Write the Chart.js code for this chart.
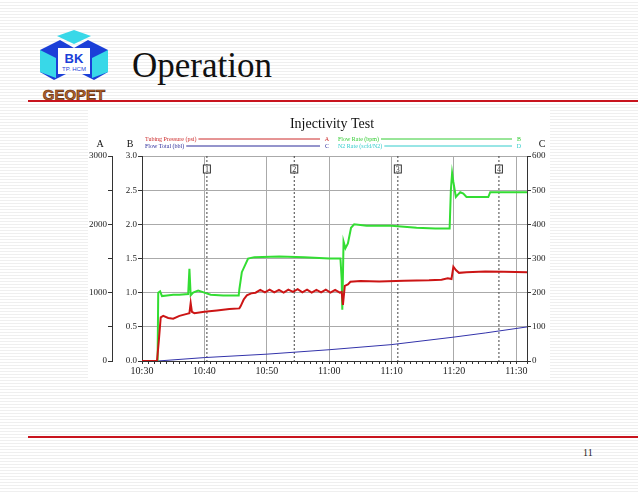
<!DOCTYPE html>
<html><head><meta charset="utf-8">
<script src="https://cdn.jsdelivr.net/npm/chart.js@4"></script>
<style>
html,body{margin:0;padding:0}
body{width:638px;height:493px;position:relative;overflow:hidden;
background:repeating-linear-gradient(to bottom,#ffffff 0px,#ffffff 2px,#efefef 2px,#efefef 3px);}
#logo{position:absolute;left:34px;top:30px}
#ttl{position:absolute;left:132px;top:46px;font-family:"Liberation Serif",serif;font-size:35px;color:#111}
.rl{position:absolute;left:28px;right:0;height:1.5px;background:#c8141e}
#pg{position:absolute;left:583px;top:447px;font-family:"Liberation Serif",serif;font-size:10px;color:#222}
#box{position:absolute;left:88px;top:108px;width:462px;height:272px;background:#fff}
</style></head><body>
<svg id="logo" width="80" height="72" viewBox="0 0 80 72">
 <polygon points="6,20 26,10 40,18 40,40 20,50 6,42" fill="#1b3fd8"/>
 <polygon points="40,18 54,10 74,20 74,42 60,50 40,40" fill="#1b3fd8"/>
 <polygon points="23,6 40,0 57,6 40,14" fill="#38d8e8"/>
 <polygon points="6,20 22,28 22,48 6,42" fill="#38d8e8"/>
 <polygon points="58,28 74,20 74,42 58,48" fill="#38d8e8"/>
 <rect x="24" y="18" width="32" height="26" fill="#fff"/>
 <text x="40" y="33" text-anchor="middle" font-family="Liberation Sans" font-weight="bold" font-size="13" fill="#1b3fd8">BK</text>
 <text x="40" y="41" text-anchor="middle" font-family="Liberation Sans" font-size="6" fill="#1b3fd8">TP. HCM</text>
 <text x="40" y="70" text-anchor="middle" font-family="Liberation Sans" font-weight="bold" font-size="15" fill="#b8642a" stroke="#5a2a0a" stroke-width="0.6">GEOPET</text>
</svg>
<div id="ttl">Operation</div>
<div class="rl" style="top:100px"></div>
<div class="rl" style="top:436px"></div>
<div id="pg">11</div>
<div id="box"><canvas id="c" width="462" height="272"></canvas></div>
<script>
const timeLabels=['10:30','10:40','10:50','11:00','11:10','11:20','11:30'];
const markerTimes=[10.4,24.4,41.0,57.2];
const markerNames=['1','2','3','4'];
const pressT=[0,2.4,2.7,3.0,3.4,4.2,5.0,6.0,7.2,7.6,7.8,8.0,8.4,10,12,14,15.6,15.8,16.3,16.8,17.5,18.2,18.95,19.7,20.45,21.2,21.95,22.7,23.45,24.2,24.95,25.7,26.45,27.2,27.95,28.7,29.45,30.2,30.95,31.7,32.0,32.2,32.5,33.0,33.4,35,38,42,46,48,49,49.6,49.9,50.3,50.8,52,55,58,61.8];
const pressV=[0,0,300,640,660,630,620,660,690,700,850,720,700,720,740,760,770,800,900,960,990,1000,1040,1005,1045,1005,1040,1000,1045,1010,1050,1005,1045,1000,1040,1005,1045,1000,1040,1000,1010,820,1100,1120,1160,1170,1165,1175,1180,1190,1210,1200,1380,1330,1290,1300,1310,1305,1300];
const rateT=[0,2.5,2.6,2.9,3.2,4,5,6,7.4,7.6,7.8,8.2,9,10,11,13,15.5,15.6,16,16.5,17,18,22,26,30,31.8,32.0,32.1,32.3,32.6,33,33.5,34,36,40,44,47,49.3,49.5,49.7,49.9,50.3,50.6,51,51.5,52,54,55.5,55.8,58,61.8];
const rateV=[0,0,1.0,1.02,0.95,0.96,0.97,0.97,0.98,1.35,0.96,1.0,1.03,1.0,0.97,0.96,0.96,1.05,1.3,1.4,1.5,1.52,1.53,1.52,1.5,1.5,1.2,0.75,1.75,1.65,1.72,1.95,2.0,1.98,1.98,1.95,1.94,1.94,2.5,2.75,2.62,2.4,2.43,2.47,2.45,2.4,2.4,2.4,2.47,2.47,2.47];
const totalT=[0,2.5,10,20,30,40,50,55,61.8];
const totalV=[0,0,10,20,33,48,70,82,100];
const pts=(t,v)=>t.map((x,i)=>({x,y:v[i]}));
const serif='"Liberation Serif", serif';
const deco={id:'deco',
 beforeDatasetsDraw(ch){const c=ch.ctx,a=ch.chartArea,x=ch.scales.x;
  c.save();c.strokeStyle='#444';c.lineWidth=1;c.setLineDash([2,2]);
  markerTimes.forEach(t=>{const px=x.getPixelForValue(t);c.beginPath();c.moveTo(px,a.top);c.lineTo(px,a.bottom);c.stroke();});
  c.restore();},
 afterDraw(ch){const c=ch.ctx,a=ch.chartArea,x=ch.scales.x;c.save();
  c.font='8px '+serif;c.textAlign='center';c.textBaseline='middle';
  markerTimes.forEach((t,i)=>{const px=x.getPixelForValue(t);c.fillStyle='#fff';c.fillRect(px-3.5,a.top+9,7,8);c.strokeStyle='#333';c.strokeRect(px-3.5,a.top+9,7,8);c.fillStyle='#333';c.fillText(markerNames[i],px,a.top+13.5);});
  c.fillStyle='#111';c.font='14px '+serif;c.fillText('Injectivity Test',244,16);
  c.font='10px '+serif;c.fillText('A',12,36);c.fillText('B',42,36);c.fillText('C',454,36);
  const leg=[['Tubing Pressure (psi)','#cc2a2a',57,232,'A',31],['Flow Total (bbl)','#2a2a99',57,232,'C',38],['Flow Rate (bpm)','#33cc33',250,424,'B',31],['N2 Rate (scfd/N2)','#33cccc',250,424,'D',38]];
  c.font='6px '+serif;
  leg.forEach(l=>{c.fillStyle=l[1];c.textAlign='left';c.fillText(l[0],l[2],l[5]);const w=c.measureText(l[0]).width;
   c.strokeStyle=l[1];c.lineWidth=1;c.beginPath();c.moveTo(l[2]+w+2,l[5]);c.lineTo(l[3],l[5]);c.stroke();c.textAlign='center';c.fillText(l[4],l[3]+7,l[5]);});
  c.restore();}};
new Chart(document.getElementById('c'),{type:'line',
 data:{datasets:[
  {data:pts(pressT,pressV),yAxisID:'A',borderColor:'#cc1515',borderWidth:2},
  {data:pts(rateT,rateV),yAxisID:'B',borderColor:'#33dd33',borderWidth:2},
  {data:pts(totalT,totalV),yAxisID:'C',borderColor:'#3333aa',borderWidth:1}]},
 options:{responsive:false,animation:false,events:[],
  elements:{point:{radius:0},line:{tension:0}},
  layout:{padding:{top:48,left:0,right:0,bottom:0}},
  plugins:{legend:{display:false},tooltip:{enabled:false}},
  scales:{
   x:{type:'linear',min:0,max:61.7,afterFit(s){s.height=19;},
    ticks:{stepSize:1,autoSkip:false,maxRotation:0,font:{family:serif,size:10},color:'#222',padding:1,
     callback:v=>v%10===0?timeLabels[v/10]:''},
    grid:{color:c=>c.tick&&c.tick.value%10===0&&c.tick.value>0?'#aaa':'rgba(0,0,0,0)',tickColor:'#333',tickLength:3},
    border:{color:'#333'}},
   B:{position:'left',min:0,max:3,afterFit(s){s.width=30;},
    ticks:{stepSize:0.5,font:{family:serif,size:9},color:'#222',padding:1,callback:v=>v.toFixed(1)},
    grid:{color:'#aaa',tickColor:'#333',tickLength:4},border:{color:'#333'}},
   A:{position:'left',min:0,max:3000,afterFit(s){s.width=24;},
    ticks:{stepSize:500,font:{family:serif,size:9},color:'#222',padding:1,callback:v=>v%1000===0?String(v):''},
    grid:{display:true,drawOnChartArea:false,tickColor:'#333',tickLength:4},border:{color:'#333'}},
   C:{position:'right',min:0,max:600,afterFit(s){s.width=23;},
    ticks:{stepSize:100,font:{family:serif,size:9},color:'#222',padding:1},
    grid:{drawOnChartArea:false,tickColor:'#333',tickLength:4},border:{color:'#333'}}}},
 plugins:[deco]});
</script></body></html>
